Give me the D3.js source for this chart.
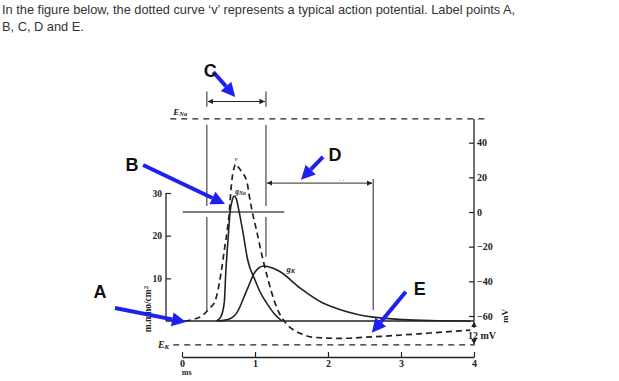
<!DOCTYPE html>
<html><head><meta charset="utf-8">
<script src="https://cdn.jsdelivr.net/npm/d3@7"></script>
<style>html,body{margin:0;padding:0;background:#fff;}svg{display:block;}</style>
</head><body>
<script>
// ---- text ----
const questionLines = ["In the figure below, the dotted curve \u2018v\u2019 represents a typical action potential. Label points A,", "B, C, D and E."];
// ---- data ----
const vTime = [0.04,0.15,0.29,0.38,0.45,0.53,0.58,0.62,0.65,0.67,0.70,0.74,0.77,0.82,0.89,0.92,0.96,1.02,1.11,1.18,1.23,1.30,1.39,1.53,1.66,1.80,2.16,2.62,3.40,3.95];
const vMv   = [-62.9,-62.0,-59.4,-55.4,-51.8,-36.4,-21.9,-10.4,0.6,12.7,23.1,27.7,26.0,23.1,17.3,9.8,0.6,-10.4,-27.7,-39.2,-46.7,-55.4,-62.3,-68.1,-70.7,-72.3,-72.9,-72.0,-69.8,-68.1];
const gNaTime = [0.47,0.53,0.58,0.60,0.63,0.66,0.69,0.71,0.74,0.78,0.83,0.90,1.00,1.07,1.16,1.27,1.37];
const gNaVal  = [0,0.9,4.5,11.5,19.0,25.8,28.4,29.3,28.8,25.8,21.3,14.3,9.6,6.8,4.2,1.6,0];
const gKTime = [0.49,0.63,0.75,0.89,1.00,1.12,1.23,1.34,1.62,1.93,2.16,2.62,3.40,3.95];
const gKVal  = [0,0.35,1.9,7.3,11.5,12.9,12.5,11.6,7.7,4.2,2.7,0.9,0.1,0];
const timeTicks = [0,1,2,3,4];
const gTicks = [10,20,30];
const mvTicks = [40,20,0,-20,-40,-60];
const E_Na = 53.7, E_K = -76.7, V_rest = -62.9;
const markers = [ // time (ms) of the vertical reference lines
  {t:0.34}, {t:1.15}, {t:2.62}
];
const labels = ["A","B","C","D","E"];
const tipT = [0.055,0.59,0.73,1.63,2.60];
const tipV = [-63.5,4.6,66.4,18.6,-69.7];

// ---- layout ----
const W=619,H=381;
const svg=d3.select("body").append("svg").attr("width",W).attr("height",H);
svg.append("rect").attr("width",W).attr("height",H).attr("fill","#fff");

svg.selectAll("text.q").data(questionLines).join("text").attr("class","q")
  .attr("x",2).attr("y",(d,i)=>14+i*17)
  .attr("font-family","'Liberation Sans', Arial, sans-serif").attr("font-size",12.8)
  .attr("fill","#333").text(d=>d);

const x=d3.scaleLinear().domain([0,4]).range([182,474]);
const yg=d3.scaleLinear().domain([0,30]).range([321,193]);
const yv=d3.scaleLinear().domain([-60,40]).range([316,142.7]);

const ink="#222", serif="'Liberation Serif','Times New Roman',serif";
const g=svg.append("g");

// equilibrium dashed lines
g.append("line").attr("x1",x(-0.16)).attr("x2",x(4.15)).attr("y1",yv(E_Na)).attr("y2",yv(E_Na))
  .attr("stroke",ink).attr("stroke-width",1.3).attr("stroke-dasharray","6,5");
g.append("line").attr("x1",x(-0.12)).attr("x2",x(4.01)).attr("y1",yv(E_K)).attr("y2",yv(E_K))
  .attr("stroke",ink).attr("stroke-width",1.3).attr("stroke-dasharray","6,5");
const eNa=g.append("text").attr("x",x(-0.12)).attr("y",yv(E_Na)-4).attr("font-family",serif)
  .attr("font-style","italic").attr("font-weight","bold").attr("font-size",9).attr("fill",ink);
eNa.append("tspan").text("E");
eNa.append("tspan").attr("font-size",6.5).attr("dy",1.5).text("Na");
const eK=g.append("text").attr("x",x(-0.33)).attr("y",yv(E_K)+3).attr("font-family",serif)
  .attr("font-style","italic").attr("font-weight","bold").attr("font-size",10).attr("fill",ink);
eK.append("tspan").text("E");
eK.append("tspan").attr("font-size",7).attr("dy",1.5).text("K");

// baseline (g = 0 / resting potential)
g.append("line").attr("x1",166).attr("x2",x(4)).attr("y1",yg(0)).attr("y2",yg(0))
  .attr("stroke",ink).attr("stroke-width",1.6);

// reference verticals & horizontals
const grey="#555";
function seg(t1,v1,t2,v2,w){g.append("line").attr("x1",x(t1)).attr("x2",x(t2)).attr("y1",yv(v1)).attr("y2",yv(v2)).attr("stroke",grey).attr("stroke-width",w||1.3);}
seg(markers[0].t,69.5,markers[0].t,60.7);
seg(markers[0].t,50.3,markers[0].t,3.5);
seg(markers[0].t,-2.9,markers[0].t,-56.5);
seg(markers[1].t,69.5,markers[1].t,60.7);
seg(markers[1].t,50.3,markers[1].t,3.5);
seg(markers[1].t,-2.9,markers[1].t,-25.8);
seg(markers[2].t,19,markers[2].t,-56.5);
seg(0.01,0,1.40,0,1.4);

// small arrowheads
const defs=svg.append("defs");
defs.append("marker").attr("id","ah").attr("viewBox","0 0 10 10").attr("refX",10).attr("refY",5)
  .attr("markerWidth",5).attr("markerHeight",5).attr("orient","auto-start-reverse")
  .append("path").attr("d","M0,0L10,5L0,10z").attr("fill",ink);
g.append("line").attr("x1",x(markers[0].t)+1).attr("x2",x(markers[1].t)-1).attr("y1",yv(63.8)).attr("y2",yv(63.8))
  .attr("stroke",ink).attr("stroke-width",1.1).attr("marker-start","url(#ah)").attr("marker-end","url(#ah)");
g.append("line").attr("x1",x(markers[1].t)+1).attr("x2",x(markers[2].t)-1).attr("y1",yv(16.7)).attr("y2",yv(16.7))
  .attr("stroke",grey).attr("stroke-width",1.1).attr("marker-start","url(#ah)").attr("marker-end","url(#ah)");
g.append("text").attr("x",x(2.15)).attr("y",yv(16.7)-2).attr("font-size",7).attr("fill","#666").text(". .");

// curves
const line=d3.line().curve(d3.curveMonotoneX);
g.append("path").attr("d",line(gNaTime.map((t,i)=>[x(t),yg(gNaVal[i])])))
  .attr("fill","none").attr("stroke",ink).attr("stroke-width",1.6);
g.append("path").attr("d",line(gKTime.map((t,i)=>[x(t),yg(gKVal[i])])))
  .attr("fill","none").attr("stroke",ink).attr("stroke-width",1.6);
g.append("path").attr("d",line(vTime.map((t,i)=>[x(t),yv(vMv[i])])))
  .attr("fill","none").attr("stroke",ink).attr("stroke-width",1.7).attr("stroke-dasharray","6,4");

// curve labels
g.append("text").attr("x",x(0.74)).attr("y",yv(29.5)).attr("text-anchor","middle").attr("font-family",serif)
  .attr("font-style","italic").attr("font-size",7).attr("fill",ink).text("v");
const lNa=g.append("text").attr("x",x(0.73)).attr("y",yg(29.7)).attr("font-family",serif)
  .attr("font-style","italic").attr("font-weight","bold").attr("font-size",7.5).attr("fill",ink);
lNa.append("tspan").text("g");lNa.append("tspan").attr("font-size",5.5).attr("dy",1).text("Na");
const lK=g.append("text").attr("x",x(1.43)).attr("y",yg(11.5)).attr("font-family",serif)
  .attr("font-style","italic").attr("font-weight","bold").attr("font-size",8.5).attr("fill",ink);
lK.append("tspan").text("g");lK.append("tspan").attr("font-size",6.5).attr("dy",1).text("K");

// axes
function styleAxis(a,fs){a.selectAll("text").attr("font-family",serif).attr("font-weight","bold").attr("font-size",fs).attr("fill",ink);
  a.selectAll("line").attr("stroke",ink).attr("stroke-width",1.2);a.selectAll("path").attr("stroke",ink).attr("stroke-width",1.3);}
const ax=g.append("g").attr("transform",`translate(0,357)`)
  .call(d3.axisBottom(x).tickValues(timeTicks).tickFormat(d3.format("d")).tickSize(-5).tickSizeOuter(0).tickPadding(3));
styleAxis(ax,10);
g.append("text").attr("x",x(0.065)).attr("y",375).attr("text-anchor","middle").attr("font-family",serif)
  .attr("font-weight","bold").attr("font-size",8).attr("fill",ink).text("ms");

const ay=g.append("g").attr("transform",`translate(166,0)`)
  .call(d3.axisLeft(yg).tickValues(gTicks).tickSize(-5).tickSizeOuter(0).tickPadding(4));
ay.select(".domain").attr("d",`M0,${yg(30)}V${yg(0)}`);
styleAxis(ay,9.5);
g.append("text").attr("transform",`translate(151,309) rotate(-90)`).attr("text-anchor","middle")
  .attr("font-family",serif).attr("font-weight","bold").attr("font-size",9.5).attr("fill",ink)
  .html("m.mho/cm<tspan font-size='7' dy='-3'>2</tspan>");

const av=g.append("g").attr("transform",`translate(${x(4)},0)`)
  .call(d3.axisRight(yv).tickValues(mvTicks).tickFormat(d=>d<0?"\u2212"+Math.abs(d):d).tickSize(-5).tickSizeOuter(0).tickPadding(3));
av.select(".domain").attr("d",`M0,${yv(E_Na)}V${yg(0)}`);
styleAxis(av,10);
// 12 mV double arrow, broken around its label
g.append("line").attr("x1",x(4)).attr("x2",x(4)).attr("y1",yg(0)+7).attr("y2",yg(0)+0.5)
  .attr("stroke",ink).attr("stroke-width",1.1).attr("marker-end","url(#ah)");
g.append("line").attr("x1",x(4)).attr("x2",x(4)).attr("y1",yv(E_K)-6).attr("y2",yv(E_K)-0.5)
  .attr("stroke",ink).attr("stroke-width",1.1).attr("marker-end","url(#ah)");
g.append("text").attr("x",x(4)-6).attr("y",339).attr("font-family",serif).attr("font-weight","bold")
  .attr("font-size",10).attr("fill",ink).text("12 mV");
g.append("text").attr("transform",`translate(508,316) rotate(-90)`).attr("text-anchor","middle")
  .attr("font-family",serif).attr("font-weight","bold").attr("font-size",9).attr("fill",ink).text("mV");

// blue annotation arrows
const tail=[[-71,-14],[-82,-39],[-22,-25],[22,-23],[34,-41]];
const lab=[[-86,-30],[-93,-39],[-25,-26],[34,-25],[48,-44]];
const blue="#1f1ff0";
labels.forEach((L,i)=>{
  const tx=x(tipT[i]), ty=yv(tipV[i]);
  const sx=tx+tail[i][0], sy=ty+tail[i][1];
  const ang=Math.atan2(ty-sy,tx-sx), hl=14, hw=7;
  const bx=tx-hl*Math.cos(ang), by=ty-hl*Math.sin(ang);
  g.append("line").attr("x1",sx).attr("y1",sy).attr("x2",bx).attr("y2",by).attr("stroke",blue).attr("stroke-width",4);
  g.append("path").attr("d",`M${tx},${ty}L${bx+hw*Math.sin(ang)},${by-hw*Math.cos(ang)}L${bx-hw*Math.sin(ang)},${by+hw*Math.cos(ang)}Z`).attr("fill",blue);
  g.append("text").attr("x",tx+lab[i][0]).attr("y",ty+lab[i][1]).attr("text-anchor","middle").attr("dominant-baseline","central")
    .attr("font-family","'Liberation Sans', Arial, sans-serif").attr("font-weight","bold").attr("font-size",18).attr("fill","#111").text(L);
});
</script>
</body></html>
